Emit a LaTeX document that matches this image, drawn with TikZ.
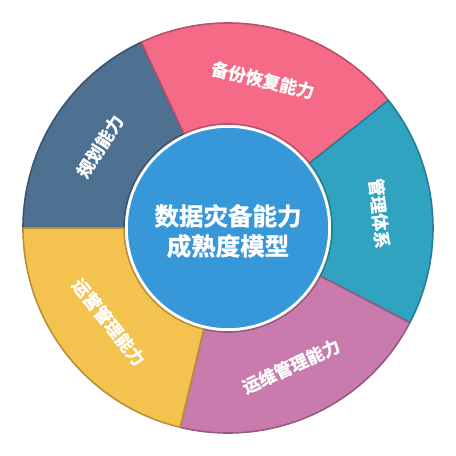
\documentclass[tikz,border=0pt]{standalone}
\usepackage{fontspec}
\newfontfamily\cjk{Noto Sans CJK SC Bold}[FakeBold=1.2]
\definecolor{fillplan}{RGB}{78,112,145}
\definecolor{lineplan}{RGB}{58,85,112}
\definecolor{fillbackup}{RGB}{245,107,135}
\definecolor{linebackup}{RGB}{184,80,106}
\definecolor{fillmgmt}{RGB}{47,163,191}
\definecolor{linemgmt}{RGB}{36,126,148}
\definecolor{fillops}{RGB}{201,123,174}
\definecolor{lineops}{RGB}{150,90,130}
\definecolor{fillrun}{RGB}{243,194,79}
\definecolor{linerun}{RGB}{184,145,55}
\definecolor{corefill}{RGB}{54,151,217}

\begin{document}
\begin{tikzpicture}[x=1pt,y=1pt,
    segment/.style={line width=1.6pt,line join=round},
    seglabel/.style={text=white,inner sep=0pt,
      font=\cjk\fontsize{17.5}{19}\selectfont}]
  \useasboundingbox (-228,-228) rectangle (228,228);
  % ring of capability segments, clockwise from the left
  \foreach \sa/\ea/\nm/\txt in {180/115/plan/规划能力,
      115/38.5/backup/备份恢复能力,
      38.5/-27.5/mgmt/管理体系,
      -27.5/-103.5/ops/运维管理能力,
      -103.5/-180/run/运营管理能力}{
    \pgfmathsetmacro\mid{(\sa+\ea)/2}
    \pgfmathsetmacro\rot{\mid>0 ? \mid-90 : \mid+90}
    \filldraw[segment,fill=fill\nm,draw=line\nm]
      (\sa:104) -- (\sa:205) arc[start angle=\sa,end angle=\ea,radius=205]
      -- (\ea:104) arc[start angle=\ea,end angle=\sa,radius=104] -- cycle;
    \node[seglabel,rotate=\rot] (lbl-\nm) at (\mid:152) {\txt};
  }
  % centre disc
  \node[circle,fill=corefill,draw=white,line width=1.5pt,
        minimum size=202pt,inner sep=0pt] (core) at (0,0) {};
  \node[text=white,align=center,
        font=\cjk\fontsize{24.5}{30}\selectfont]
    (coretext) at (0,-3) {数据灾备能力\\成熟度模型};
\end{tikzpicture}
\end{document}
